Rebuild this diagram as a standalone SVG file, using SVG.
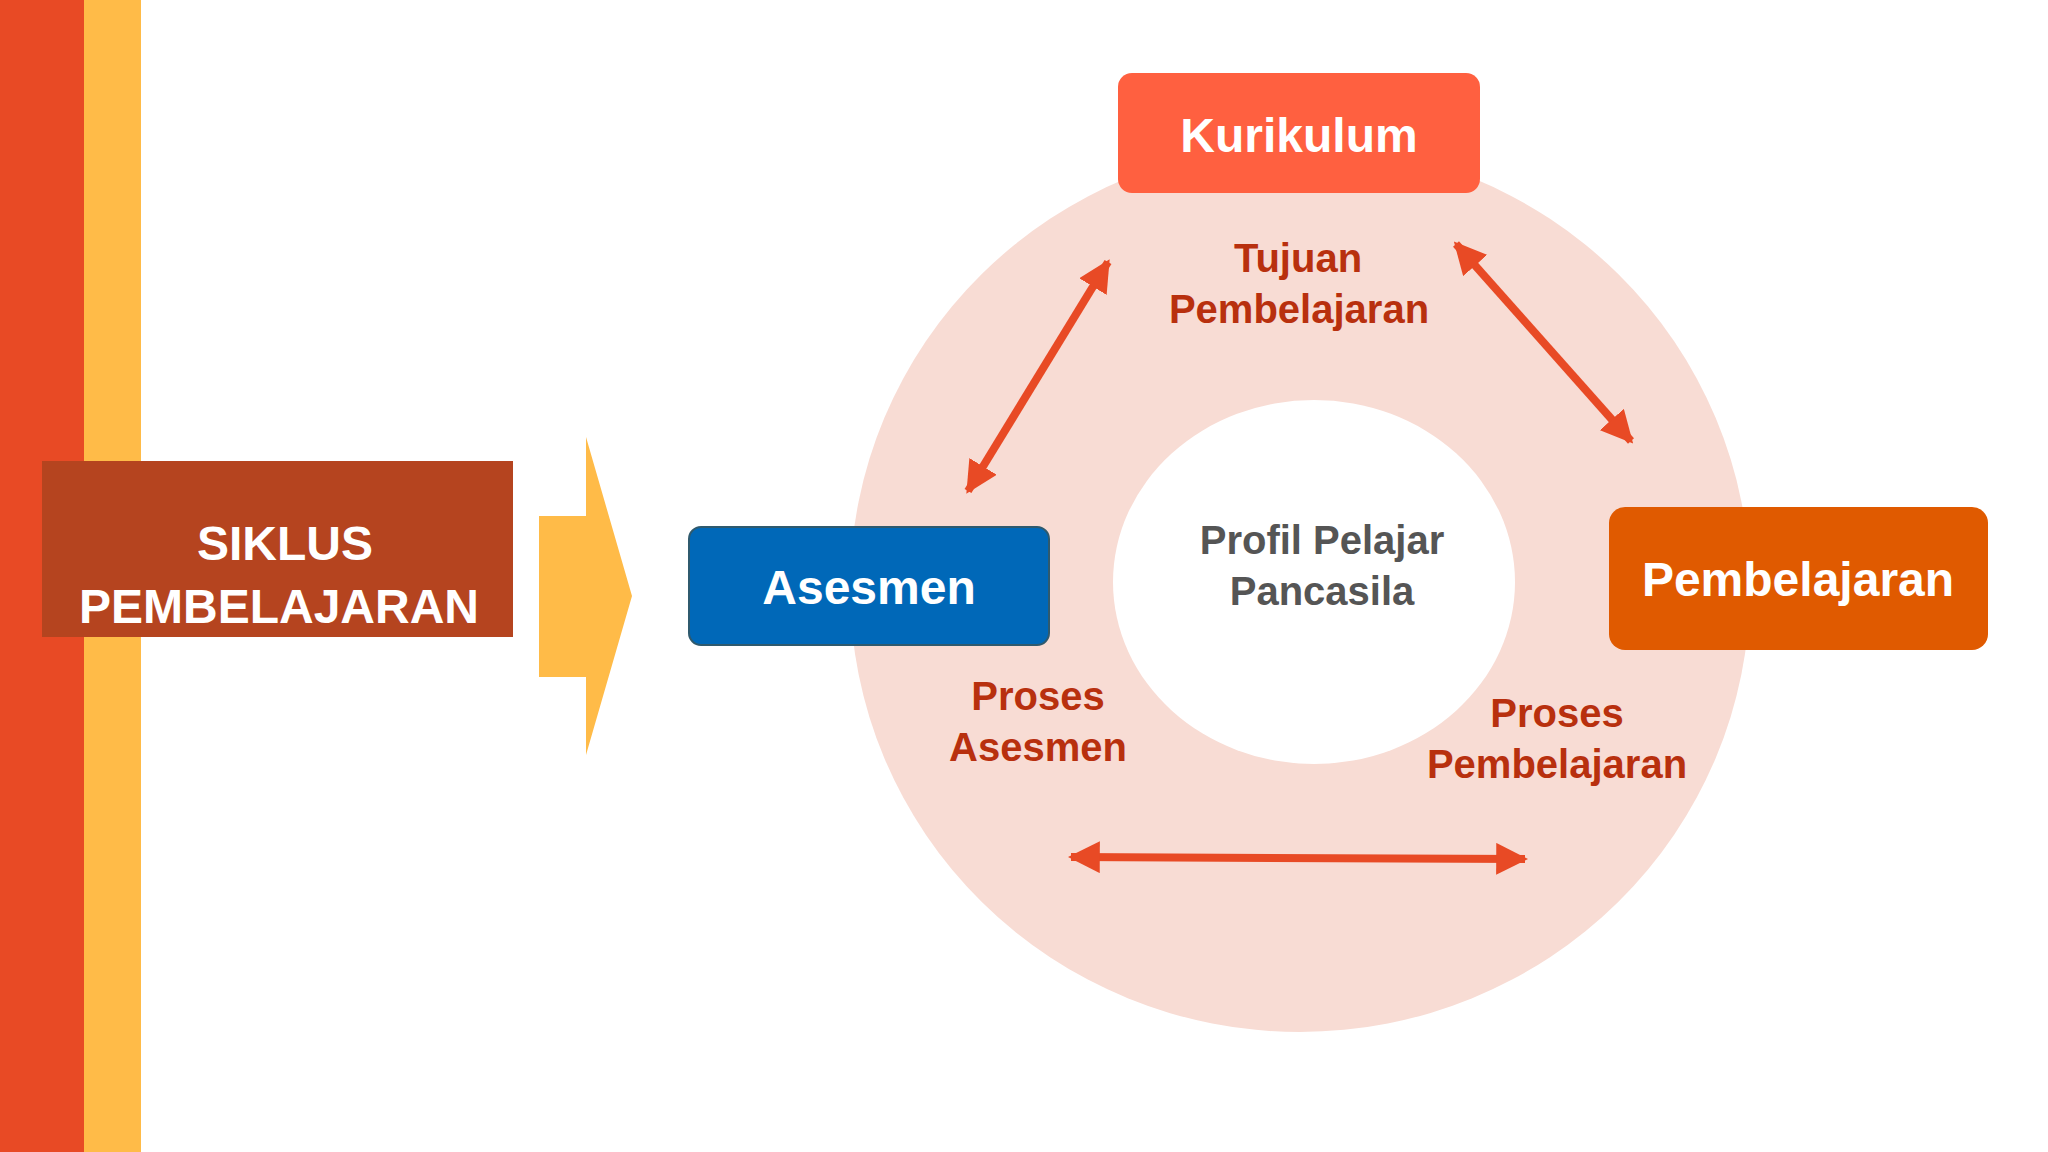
<svg xmlns="http://www.w3.org/2000/svg" width="2048" height="1152" viewBox="0 0 2048 1152">
<defs>
<marker id="ah" viewBox="0 0 10 10" refX="9" refY="5" markerWidth="4" markerHeight="4" orient="auto-start-reverse"><path d="M0,0L10,5L0,10z" fill="#E84A25"/></marker>
<style>
.t{font-family:"Liberation Sans",Arial,sans-serif;font-weight:bold;text-anchor:middle}
.lbl{fill:#B8300E;font-size:40px}
.c{stroke:#E84A25;stroke-width:8;fill:none;marker-start:url(#ah);marker-end:url(#ah)}
</style>
</defs>
<rect width="2048" height="1152" fill="#fff"/>
<rect x="0" y="0" width="84" height="1152" fill="#E84A25"/>
<rect x="84" y="0" width="57" height="1152" fill="#FFBB48"/>
<g id="siklus"><rect x="42" y="461" width="471" height="176" fill="#B5441F"/>
<text class="t" x="285" y="560" font-size="48" fill="#fff">SIKLUS</text>
<text class="t" x="279" y="623" font-size="48" fill="#fff">PEMBELAJARAN</text></g>
<g id="bigarrow"><polygon points="539,516 586,516 586,437 632,596 586,755 586,677 539,677" fill="#FFBB48"/></g>
<g id="ring"><ellipse cx="1300" cy="588" rx="450" ry="444" fill="#F8DCD4"/>
<ellipse cx="1314" cy="582" rx="201" ry="182" fill="#fff"/></g>
<g id="connectors">
<line class="c" x1="968" y1="491" x2="1108" y2="262"/>
<line class="c" x1="1456" y1="244" x2="1631" y2="441"/>
<line class="c" x1="1071" y1="857" x2="1525" y2="859"/>
</g>
<g id="kurikulum"><rect x="1118" y="73" width="362" height="120" rx="14" fill="#FF6040"/>
<text class="t" x="1299" y="152" font-size="48" fill="#fff">Kurikulum</text></g>
<g id="asesmen"><rect x="689" y="527" width="360" height="118" rx="12" fill="#0068B8" stroke="#2F5A6E" stroke-width="2"/>
<text class="t" x="869" y="604" font-size="48" fill="#fff">Asesmen</text></g>
<g id="pembelajaran"><rect x="1609" y="507" width="379" height="143" rx="16" fill="#E05A00"/>
<text class="t" x="1798" y="596" font-size="48" fill="#fff">Pembelajaran</text></g>
<g id="center"><text class="t" x="1322" y="554" font-size="40" fill="#555">Profil Pelajar</text>
<text class="t" x="1322" y="605" font-size="40" fill="#555">Pancasila</text></g>
<g id="tujuan"><text class="t lbl" x="1298" y="272">Tujuan</text><text class="t lbl" x="1299" y="323">Pembelajaran</text></g>
<g id="prosesA"><text class="t lbl" x="1038" y="710">Proses</text><text class="t lbl" x="1038" y="761">Asesmen</text></g>
<g id="prosesP"><text class="t lbl" x="1557" y="727">Proses</text><text class="t lbl" x="1557" y="778">Pembelajaran</text></g>
</svg>
